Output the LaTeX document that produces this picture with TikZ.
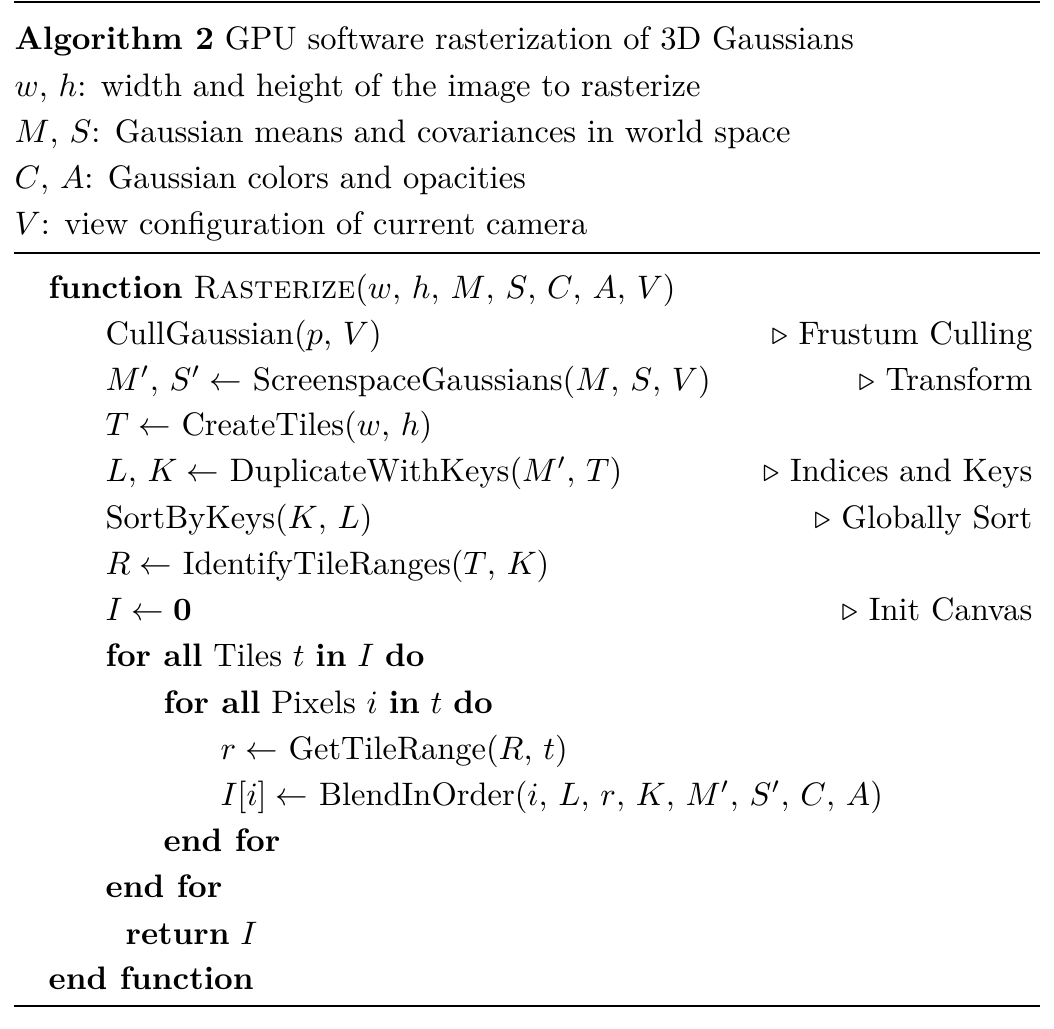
\documentclass[tikz,border=0pt]{standalone}
\usepackage{amsmath}
\begin{document}
\begin{tikzpicture}[x=1pt,y=-1pt,
  t/.style={anchor=base west,inner sep=0pt,scale=3.25,font=\fontsize{10}{12}\selectfont},
  c/.style={anchor=base east,inner sep=0pt,scale=3.25,font=\fontsize{10}{12}\selectfont},
  rule/.style={line width=1.6pt}]
\useasboundingbox (0,0) rectangle (1054,1028);
\draw[rule] (14,2) -- (1040,2);
\draw[rule] (14,253) -- (1040,253);
\draw[rule] (14,1006) -- (1040,1006);
\node[t] (h1) at (14,49) {\textbf{Algorithm 2} GPU software rasterization of 3D Gaussians};
\node[t] (h2) at (14,96) {$w$, $h$: width and height of the image to rasterize};
\node[t] (h3) at (14,142) {$M$, $S$: Gaussian means and covariances in world space};
\node[t] (h4) at (14,188) {$C$, $A$: Gaussian colors and opacities};
\node[t] (h5) at (14,234) {$V$: view configuration of current camera};
\node[t] (l1) at (48,298) {\textbf{function} \textsc{Rasterize}($w$, $h$, $M$, $S$, $C$, $A$, $V$)};
\node[t] (l2) at (105,344) {CullGaussian($p$, $V$)};
\node[c] (c2) at (1033,344) {$\triangleright$ Frustum Culling};
\node[t] (l3) at (105,390) {$M'$, $S'\leftarrow$ ScreenspaceGaussians($M$, $S$, $V$)};
\node[c] (c3) at (1033,390) {$\triangleright$ Transform};
\node[t] (l4) at (105,435) {$T\leftarrow$ CreateTiles($w$, $h$)};
\node[t] (l5) at (105,481) {$L$, $K\leftarrow$ DuplicateWithKeys($M'$, $T$)};
\node[c] (c5) at (1033,481) {$\triangleright$ Indices and Keys};
\node[t] (l6) at (105,528) {SortByKeys($K$, $L$)};
\node[c] (c6) at (1033,528) {$\triangleright$ Globally Sort};
\node[t] (l7) at (105,574) {$R\leftarrow$ IdentifyTileRanges($T$, $K$)};
\node[t] (l8) at (105,620) {$I\leftarrow\mathbf{0}$};
\node[c] (c8) at (1033,620) {$\triangleright$ Init Canvas};
\node[t] (l9) at (105,666) {\textbf{for all} Tiles $t$ \textbf{in} $I$ \textbf{do}};
\node[t] (l10) at (163,713) {\textbf{for all} Pixels $i$ \textbf{in} $t$ \textbf{do}};
\node[t] (l11) at (220,759) {$r\leftarrow$ GetTileRange($R$, $t$)};
\node[t] (l12) at (220,805) {$I[i]\leftarrow$ BlendInOrder($i$, $L$, $r$, $K$, $M'$, $S'$, $C$, $A$)};
\node[t] (l13) at (163,851) {\textbf{end for}};
\node[t] (l14) at (105,897) {\textbf{end for}};
\node[t] (l15) at (125,944) {\textbf{return} $I$};
\node[t] (l16) at (48,989) {\textbf{end function}};
\end{tikzpicture}
\end{document}
